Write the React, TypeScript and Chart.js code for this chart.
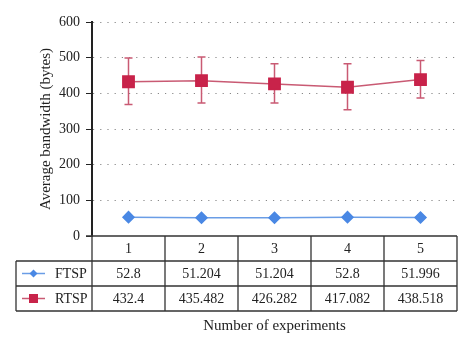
import React, { useEffect, useRef } from "react";
import { Chart, registerables } from "chart.js";

Chart.register(...registerables);

const categories = ["1", "2", "3", "4", "5"];
const ftspValues = [52.8, 51.204, 51.204, 52.8, 51.996];
const rtspValues = [432.4, 435.482, 426.282, 417.082, 438.518];
const rtspErrHigh = [499, 502, 483, 483, 492];
const rtspErrLow = [369, 373, 373, 354, 387];
const ftspLabels = ["52.8", "51.204", "51.204", "52.8", "51.996"];
const rtspLabels = ["432.4", "435.482", "426.282", "417.082", "438.518"];
const yTicks = [0, 100, 200, 300, 400, 500, 600];

const FONT = "'Liberation Serif', 'DejaVu Serif', serif";
const BLUE = "#4a88e4";
const BLUE_LINE = "#6a9de6";
const RED = "#c8234a";
const RED_LINE = "#c95a73";

const errorBarPlugin = {
  id: "errorBars",
  beforeDatasetsDraw(chart: any) {
    const { ctx } = chart;
    const x = chart.scales.x;
    const y = chart.scales.y;
    ctx.save();
    ctx.strokeStyle = RED_LINE;
    ctx.lineWidth = 1.5;
    for (let i = 0; i < categories.length; i++) {
      const px = x.getPixelForValue(i);
      const yh = y.getPixelForValue(rtspErrHigh[i]);
      const yl = y.getPixelForValue(rtspErrLow[i]);
      ctx.beginPath();
      ctx.moveTo(px, yh);
      ctx.lineTo(px, yl);
      ctx.moveTo(px - 4, yh);
      ctx.lineTo(px + 4, yh);
      ctx.moveTo(px - 4, yl);
      ctx.lineTo(px + 4, yl);
      ctx.stroke();
    }
    ctx.restore();
  },
};

const tablePlugin = {
  id: "dataTable",
  afterDraw(chart: any) {
    const { ctx, chartArea } = chart;
    const x = chart.scales.x;
    const top = chartArea.bottom;
    const rowH = 25;
    const leftEdge = 16;
    const bounds: number[] = [];
    for (let i = 0; i <= categories.length; i++) bounds.push(x.getPixelForValue(i - 0.5));
    const right = bounds[bounds.length - 1];
    ctx.save();
    ctx.strokeStyle = "#333";
    ctx.lineWidth = 1.3;
    ctx.beginPath();
    ctx.moveTo(bounds[0] - 6, top);
    ctx.lineTo(right, top);
    for (let r = 1; r <= 3; r++) {
      ctx.moveTo(leftEdge, top + r * rowH);
      ctx.lineTo(right, top + r * rowH);
    }
    bounds.forEach((b) => {
      ctx.moveTo(b, top);
      ctx.lineTo(b, top + 3 * rowH);
    });
    ctx.moveTo(leftEdge, top + rowH);
    ctx.lineTo(leftEdge, top + 3 * rowH);
    ctx.stroke();

    ctx.font = `14px ${FONT}`;
    ctx.fillStyle = "#222";
    ctx.textBaseline = "middle";
    const rows = [
      { name: "FTSP", labels: ftspLabels, color: BLUE, style: "diamond" },
      { name: "RTSP", labels: rtspLabels, color: RED, style: "square" },
    ];
    rows.forEach((row, r) => {
      const cy = top + (r + 1.5) * rowH;
      ctx.strokeStyle = row.style === "diamond" ? BLUE_LINE : RED_LINE;
      ctx.lineWidth = 1.5;
      ctx.beginPath();
      ctx.moveTo(22, cy);
      ctx.lineTo(45, cy);
      ctx.stroke();
      ctx.fillStyle = row.color;
      ctx.beginPath();
      if (row.style === "diamond") {
        ctx.moveTo(33.5, cy - 4);
        ctx.lineTo(37.5, cy);
        ctx.lineTo(33.5, cy + 4);
        ctx.lineTo(29.5, cy);
        ctx.closePath();
      } else {
        ctx.rect(29, cy - 4.5, 9, 9);
      }
      ctx.fill();
      ctx.fillStyle = "#222";
      ctx.textAlign = "left";
      ctx.fillText(row.name, 55, cy + 1);
      ctx.textAlign = "center";
      row.labels.forEach((t, i) => {
        ctx.fillText(t, (bounds[i] + bounds[i + 1]) / 2, cy + 1);
      });
    });
    ctx.restore();
  },
};

export default function App() {
  const ref = useRef<HTMLCanvasElement>(null);
  useEffect(() => {
    document.body.style.margin = "0";
    const chart = new Chart(ref.current!, {
      type: "line",
      data: {
        labels: categories,
        datasets: [
          {
            label: "FTSP",
            data: ftspValues,
            borderColor: BLUE_LINE,
            backgroundColor: BLUE,
            pointBackgroundColor: BLUE,
            pointBorderColor: BLUE,
            pointStyle: "rectRot",
            pointRadius: 5.5,
            borderWidth: 1.5,
          },
          {
            label: "RTSP",
            data: rtspValues,
            borderColor: RED_LINE,
            backgroundColor: RED,
            pointBackgroundColor: RED,
            pointBorderColor: RED,
            pointStyle: "rect",
            pointRadius: 8,
            borderWidth: 1.5,
          },
        ],
      },
      options: {
        animation: false,
        responsive: false,
        layout: { padding: { top: 22, right: 17, left: 0, bottom: 0 } },
        plugins: { legend: { display: false }, tooltip: { enabled: false } },
        scales: {
          x: {
            offset: true,
            grid: { display: false, drawTicks: false },
            border: { display: false },
            ticks: { color: "#222", font: { family: FONT, size: 14 }, padding: 5 },
            title: {
              display: true,
              text: "Number of experiments",
              color: "#222",
              font: { family: FONT, size: 15 },
              padding: { top: 0, bottom: 15 },
            },
            afterFit(scale: any) {
              scale.height = 114;
            },
          },
          y: {
            min: 0,
            max: 600,
            afterBuildTicks(scale: any) {
              scale.ticks = yTicks.map((v) => ({ value: v }));
            },
            grid: {
              color: (c: any) => (c.tick && c.tick.value === 0 ? "rgba(0,0,0,0)" : "#888"),
              tickColor: "#222",
              tickLength: 6,
              tickBorderDash: [],
              lineWidth: 1,
            },
            border: { display: true, color: "#222", width: 2, dash: [1.2, 6] },
            ticks: { color: "#222", font: { family: FONT, size: 14 }, padding: 6 },
            title: {
              display: true,
              text: "Average bandwidth (bytes)",
              color: "#222",
              font: { family: FONT, size: 15 },
              padding: { top: 37, bottom: 0 },
            },
            afterFit(scale: any) {
              scale.width = 92;
            },
          },
        },
      },
      plugins: [errorBarPlugin, tablePlugin],
    } as any);
    return () => chart.destroy();
  }, []);
  return (
    <div style={{ position: "fixed", left: 0, top: 0, width: 474, height: 350, background: "#fff" }}>
      <canvas ref={ref} width={474} height={350} />
    </div>
  );
}
